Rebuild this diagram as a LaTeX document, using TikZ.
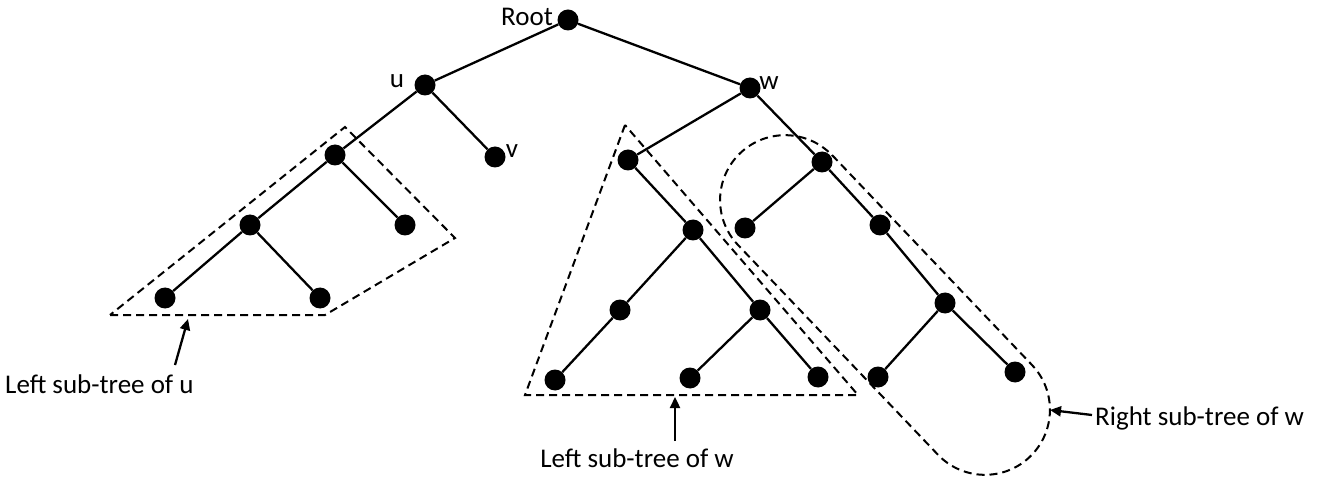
\documentclass[tikz,border=0pt]{standalone}
\usepackage{fontspec}
\setmainfont{Carlito}
\usetikzlibrary{arrows.meta}
\begin{document}
\begin{tikzpicture}[x=1pt,y=1pt,
  dot/.style={circle,fill=black,inner sep=0pt,minimum size=21pt},
  edge/.style={line width=2.3pt},
  box/.style={line width=2pt,dash pattern=on 8pt off 5pt},
  lab/.style={font=\fontsize{27}{31}\selectfont,inner sep=0pt},
  arr/.style={line width=2.3pt,-{Triangle[length=11pt,width=10pt]}}]
\useasboundingbox (0,0) rectangle (1330,477);
\node[dot] (r) at (568,457) {};
\node[dot] (u) at (425,392) {};
\node[dot] (w) at (750,389) {};
\node[dot] (v) at (495,320) {};
\node[dot] (a1) at (335,322) {};
\node[dot] (a2) at (250,252) {};
\node[dot] (a3) at (405,252) {};
\node[dot] (a4) at (165,179) {};
\node[dot] (a5) at (320,179) {};
\node[dot] (b1) at (628,317) {};
\node[dot] (b2) at (693,247) {};
\node[dot] (b3) at (620,167) {};
\node[dot] (b4) at (760,167) {};
\node[dot] (b5) at (555,97) {};
\node[dot] (b6) at (690,99) {};
\node[dot] (b7) at (818,100) {};
\node[dot] (c1) at (822,315) {};
\node[dot] (c2) at (745,249) {};
\node[dot] (c3) at (880,252) {};
\node[dot] (c4) at (945,174) {};
\node[dot] (c5) at (878,100) {};
\node[dot] (c6) at (1015,105) {};
\draw[edge] (r)--(u) (r)--(w) (u)--(v) (u)--(a1) (a1)--(a2) (a1)--(a3) (a2)--(a4) (a2)--(a5)
 (w)--(b1) (b1)--(b2) (b2)--(b3) (b2)--(b4) (b3)--(b5) (b4)--(b6) (b4)--(b7)
 (w)--(c1) (c1)--(c2) (c1)--(c3) (c3)--(c4) (c4)--(c5) (c4)--(c6);
\draw[box] (110,162)--(325,162)--(455,239)--(345,350)--cycle;
\draw[box] (625,352)--(525,82)--(858,82)--cycle;
\draw[box] (832,322)--(1032,112) arc[start angle=43.6,end angle=-136.4,radius=65]
  --(738,232) arc[start angle=223.6,end angle=43.6,radius=65]--cycle;
\node[lab,anchor=east] (lr) at (553,460) {Root};
\node[lab] (lu) at (397,396) {u};
\node[lab] (lw) at (769,394) {w};
\node[lab] (lv) at (512,326) {v};
\node[lab,anchor=west] (t1) at (5,93) {Left sub-tree of u};
\node[lab] (t2) at (637,19) {Left sub-tree of w};
\node[lab,anchor=west] (t3) at (1095,59) {Right sub-tree of w};
\coordinate (e1) at (188,158);
\coordinate (e2) at (675,80);
\coordinate (e3) at (1050,67);
\draw[arr] (175,112)--(e1);
\draw[arr] (675,36)--(e2);
\draw[arr] (1092,62)--(e3);
\end{tikzpicture}
\end{document}
